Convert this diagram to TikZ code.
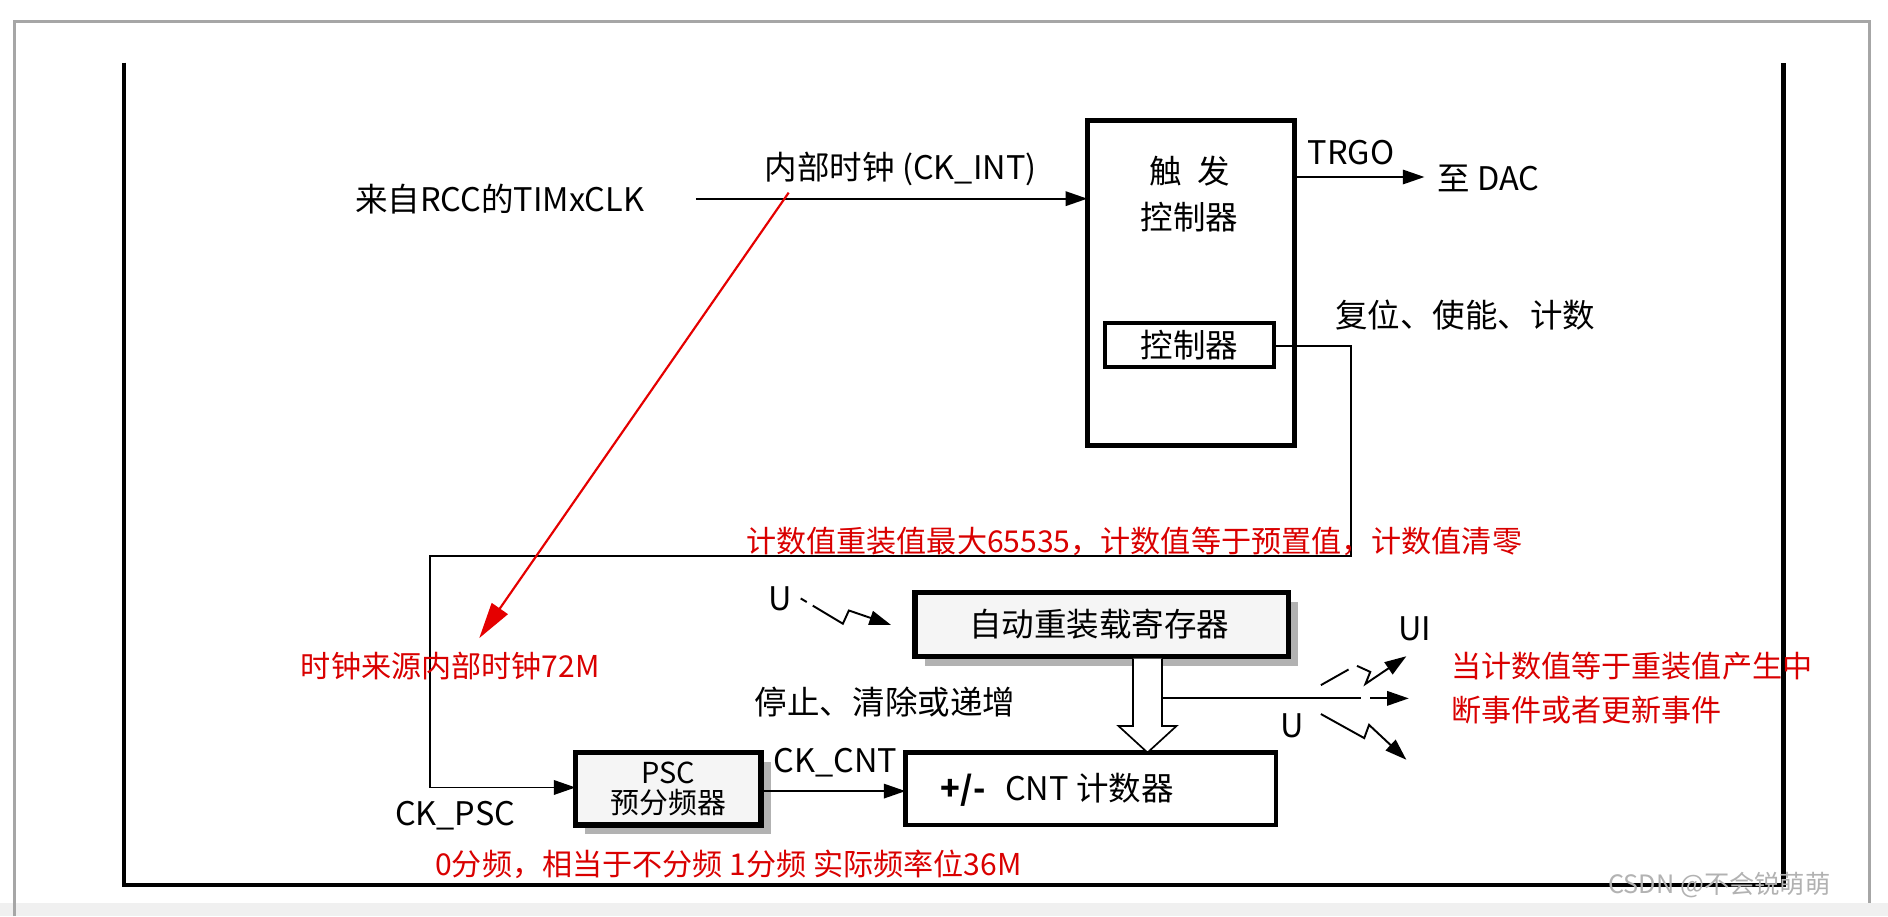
\documentclass[tikz,border=0pt]{standalone}
\usepackage{fontspec}
\setmainfont{Noto Sans CJK SC}
\usetikzlibrary{arrows.meta}
\begin{document}
\begin{tikzpicture}[x=1pt,y=-1pt,
  txt/.style={font=\fontsize{27}{30}\selectfont,inner sep=0pt},
  red/.style={txt,text=red!85!black,font=\fontsize{25}{30}\selectfont},
  thk/.style={line width=4.5pt},
  tip/.style={-{Triangle[length=18pt,width=12pt]}},
  arr/.style={tip,line width=1.6pt},
  shadowed/.style={fill=gray!60}]
\useasboundingbox (0,0) rectangle (1568,761);
\fill[gray!12] (0,750) rectangle (1568,761);
% outer frame
\draw[gray!70,line width=2.5pt] (12,761) -- (12,18) -- (1553,18) -- (1553,750);
% inner frame
\draw[line width=4pt] (103,52) -- (103,735) -- (1481,735) -- (1481,52);
% inputs
\node[txt] (rcc) at (415,165) {来自RCC的TIMxCLK};
\node[txt] (ckint) at (748,140) {内部时钟 (CK\_INT)};
% trigger controller
\draw[thk] (903,100) rectangle (1075,370);
\node[txt] at (988,142) {触\hspace{0.5em}发};
\node[txt] at (988,180) {控制器};
\draw[line width=3.5pt] (918,268) rectangle (1058,305);
\node[txt] (ctl) at (988,287) {控制器};
\coordinate (a1) at (578,165);
\coordinate (a2) at (903,165);
\draw[arr] (a1) -- (a2);
\coordinate (t1) at (1075,147); \coordinate (t2) at (1183,147);
\draw[arr] (t1) -- (t2);
\node[txt] at (1122,127) {TRGO};
\node[txt] at (1236,148) {至 DAC};
\node[txt] at (1217,262) {复位、使能、计数};
% PSC
\fill[shadowed] (486,633) rectangle (640,693);
\draw[thk,fill=gray!8] (478,625) rectangle (632,685);
\node[txt,align=center,font=\fontsize{24}{25}\selectfont] (psc) at (555,655) {PSC\\预分频器};
\node[txt] at (378,677) {CK\_PSC};
\coordinate (c1) at (1058,287);
\coordinate (c5) at (478,654);
\draw[arr] (c1) -- (1122,287) -- (1122,462) -- (357,462) -- (357,654) -- (c5);
% CNT
\draw[line width=3.5pt] (752,625) rectangle (1060,685);
\node[txt] (cnt) at (878,656) {\textbf{+/-}\hspace{0.6em}CNT 计数器};
\coordinate (p1) at (632,657); \coordinate (p2) at (752,657);
\draw[arr] (p1) -- (p2);
\node[txt] at (694,633) {CK\_CNT};
% ARR
\fill[shadowed] (768,500) rectangle (1078,553);
\draw[thk,fill=gray!8] (760,492) rectangle (1070,545);
\node[txt] (arrreg) at (913,518) {自动重装载寄存器};
% hollow arrow
\draw[line width=1.4pt,fill=white] (941,547) -- (941,603) -- (929,603) -- (953,625) -- (977,603) -- (965,603) -- (965,547);
% update output
\draw[line width=1.6pt] (965,580) -- (1130,580);
\draw[arr] (1138,580) -- (1170,580);
\node[txt] at (1073,603) {U};
\node[txt] at (1175,522) {UI};
\draw[line width=1.6pt] (1097,569) -- (1120,556);
\draw[arr] (1127,553) -- (1138,558) -- (1134,568) -- (1168,545);
\draw[arr] (1097,593) -- (1133,613) -- (1137,602) -- (1168,631);
\node[txt] at (648,497) {U};
\draw[line width=1.6pt] (665,497) -- (670,500);
\draw[arr] (675,503) -- (700,518) -- (705,507) -- (740,519);
\node[txt] at (735,583) {停止、清除或递增};
% red annotations
\node[red] at (942,450) {计数值重装值最大65535，计数值等于预置值，计数值清零};
\node[red] at (374,553) {时钟来源内部时钟72M};
\node[red,anchor=west] at (1205,553) {当计数值等于重装值产生中};
\node[red,anchor=west] at (1205,590) {断事件或者更新事件};
\node[red] at (605,718) {0分频，相当于不分频 1分频 实际频率位36M};
\coordinate (r1) at (655,160); \coordinate (r2) at (398,530);
\draw[red!90!black,line width=1.8pt,-{Triangle[length=30pt,width=16pt]}] (r1) -- (r2);
\node[txt,text=gray!60,font=\fontsize{21}{24}\selectfont] at (1428,735) {CSDN @不会锐萌萌};
\end{tikzpicture}
\end{document}
